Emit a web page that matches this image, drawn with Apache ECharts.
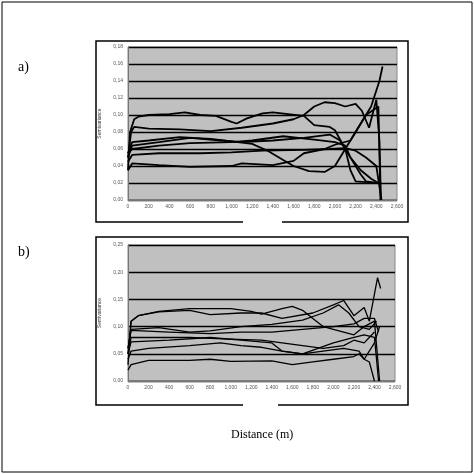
<!DOCTYPE html><html><head><meta charset="utf-8"><script src="https://cdn.jsdelivr.net/npm/echarts@6/dist/echarts.min.js"></script>
<style>html,body{margin:0;padding:0;background:#fff}#c{width:474px;height:474px}</style></head><body><div id="c"></div>
<script>
// Panel a) series: [distance, semivariance]
const a1=[[0,0.035],[20,0.08],[60,0.095],[100,0.098],[200,0.1],[400,0.101],[550,0.103],[700,0.1],[850,0.099],[1000,0.092],[1050,0.09],[1150,0.096],[1300,0.102],[1400,0.103],[1550,0.101],[1700,0.099],[1800,0.088],[1950,0.086],[2000,0.082],[2100,0.06],[2150,0.035],[2200,0.022],[2300,0.021],[2400,0.02]];
const a2=[[0,0.05],[30,0.08],[60,0.086],[200,0.084],[500,0.083],[800,0.081],[1100,0.085],[1400,0.09],[1600,0.095],[1700,0.1],[1800,0.11],[1900,0.115],[2000,0.114],[2100,0.11],[2200,0.113],[2260,0.105],[2330,0.085],[2400,0.118],[2430,0.07],[2445,0.0]];
const a3=[[0,0.055],[40,0.068],[200,0.07],[500,0.074],[800,0.072],[1000,0.069],[1200,0.066],[1350,0.058],[1500,0.047],[1600,0.04],[1750,0.034],[1900,0.033],[2000,0.04],[2100,0.06],[2200,0.08],[2300,0.1],[2420,0.11],[2440,0.0]];
const a4=[[0,0.05],[40,0.064],[300,0.068],[600,0.073],[900,0.07],[1100,0.068],[1400,0.07],[1700,0.073],[1950,0.077],[2050,0.07],[2150,0.05],[2250,0.035],[2350,0.025],[2420,0.02]];
const a5=[[0,0.055],[40,0.06],[300,0.064],[600,0.067],[1000,0.068],[1200,0.07],[1500,0.075],[1800,0.071],[2000,0.068],[2100,0.064],[2150,0.05],[2250,0.03],[2300,0.022],[2400,0.02]];
const a6=[[0,0.045],[40,0.053],[300,0.055],[700,0.055],[1000,0.056],[1300,0.058],[1700,0.059],[1950,0.06],[2100,0.061],[2200,0.058],[2300,0.05],[2400,0.04],[2450,0.0]];
const a7=[[0,0.035],[40,0.043],[300,0.041],[600,0.039],[1000,0.04],[1100,0.043],[1400,0.041],[1600,0.046],[1700,0.055],[1900,0.06],[2000,0.065],[2150,0.07],[2200,0.08],[2300,0.1],[2350,0.11],[2430,0.14],[2460,0.157]];
// Panel b)
const b1=[[0,0.03],[30,0.11],[100,0.12],[300,0.128],[600,0.133],[1000,0.133],[1200,0.128],[1300,0.123],[1500,0.133],[1600,0.137],[1700,0.13],[1800,0.115],[1900,0.1],[2100,0.09],[2200,0.085],[2300,0.1],[2400,0.11],[2450,0.0]];
const b2=[[0,0.05],[30,0.11],[100,0.12],[300,0.127],[600,0.13],[800,0.122],[1100,0.125],[1300,0.125],[1500,0.115],[1800,0.125],[2000,0.14],[2100,0.148],[2200,0.12],[2300,0.135],[2350,0.11],[2430,0.19],[2460,0.17]];
const b3=[[0,0.06],[30,0.095],[300,0.098],[600,0.09],[800,0.092],[1100,0.1],[1400,0.104],[1700,0.112],[1900,0.125],[2050,0.14],[2150,0.125],[2250,0.1],[2350,0.095],[2420,0.11]];
const b4=[[0,0.06],[30,0.093],[400,0.09],[800,0.087],[1100,0.09],[1400,0.09],[1700,0.095],[2000,0.1],[2200,0.105],[2300,0.115],[2400,0.115],[2440,0.09]];
const b5=[[0,0.05],[30,0.08],[600,0.08],[1000,0.077],[1300,0.075],[1500,0.07],[1700,0.065],[1900,0.06],[2100,0.065],[2200,0.075],[2300,0.07],[2400,0.09]];
const b6=[[0,0.05],[30,0.072],[400,0.075],[800,0.08],[1100,0.075],[1400,0.07],[1500,0.055],[1700,0.05],[1850,0.06],[2000,0.07],[2200,0.08],[2300,0.085],[2400,0.08],[2440,0.0]];
const b7=[[0,0.04],[30,0.055],[200,0.06],[600,0.065],[900,0.07],[1100,0.065],[1300,0.062],[1500,0.055],[1700,0.05],[1900,0.055],[2100,0.06],[2250,0.055],[2300,0.04],[2350,0.035],[2400,0.0]];
const b8=[[0,0.02],[30,0.03],[200,0.038],[600,0.038],[800,0.04],[1000,0.036],[1400,0.037],[1600,0.03],[1800,0.035],[2000,0.04],[2200,0.045],[2250,0.05],[2300,0.04],[2400,0.07],[2450,0.1]];
const seriesA=[a1,a2,a3,a4,a5,a6,a7];
const seriesB=[b1,b2,b3,b4,b5,b6,b7,b8];
const yTitle='Semivariance', xTitle='Distance (m)';
const fmt=v=>v.toFixed(2).replace('.',',');
const ch=echarts.init(document.getElementById('c'));
function xa(i){return {type:'value',gridIndex:i,min:0,max:2600,interval:200,axisLine:{lineStyle:{color:'#777'}},axisTick:{show:false},splitLine:{show:false},axisLabel:{fontSize:5,color:'#555',margin:4}};}
function ya(i,max,int){return {type:'value',gridIndex:i,min:0,max:max,interval:int,name:yTitle,nameLocation:'middle',nameGap:22,nameTextStyle:{fontSize:5,color:'#333'},axisLine:{show:true,lineStyle:{color:'#777'}},axisTick:{show:false},splitLine:{lineStyle:{color:'#000',width:1.3}},axisLabel:{fontSize:5,color:'#555',margin:5,formatter:fmt}};}
const ser=[];
seriesA.forEach(d=>ser.push({type:'line',xAxisIndex:0,yAxisIndex:0,data:d,showSymbol:false,lineStyle:{color:'#000',width:1.8}}));
seriesB.forEach(d=>ser.push({type:'line',xAxisIndex:1,yAxisIndex:1,data:d,showSymbol:false,lineStyle:{color:'#000',width:1.3}}));
ch.setOption({animation:false,
grid:[{left:128,right:77,top:47,height:153,show:true,backgroundColor:'#c0c0c0',borderColor:'#888'},{left:128,right:79,top:245,height:136,show:true,backgroundColor:'#c0c0c0',borderColor:'#888'}],
xAxis:[xa(0),xa(1)],yAxis:[ya(0,0.18,0.02),ya(1,0.25,0.05)],series:ser,
graphic:[
{type:'rect',shape:{x:2,y:2,width:470,height:470},style:{fill:'none',stroke:'#000',lineWidth:1}},
{type:'rect',shape:{x:96,y:41,width:312,height:181},style:{fill:'none',stroke:'#000',lineWidth:1.5}},
{type:'rect',shape:{x:243,y:220,width:39,height:4},style:{fill:'#fff'}},
{type:'rect',shape:{x:96,y:237,width:312,height:168},style:{fill:'none',stroke:'#000',lineWidth:1.5}},
{type:'rect',shape:{x:243,y:403,width:35,height:4},style:{fill:'#fff'}},
{type:'text',left:18,top:60,style:{text:'a)',font:'14px "Liberation Serif"',fill:'#000'}},
{type:'text',left:18,top:245,style:{text:'b)',font:'14px "Liberation Serif"',fill:'#000'}},
{type:'text',left:231,top:429,style:{text:xTitle,font:'12px "Liberation Serif"',fill:'#000'}}
]});
</script></body></html>
